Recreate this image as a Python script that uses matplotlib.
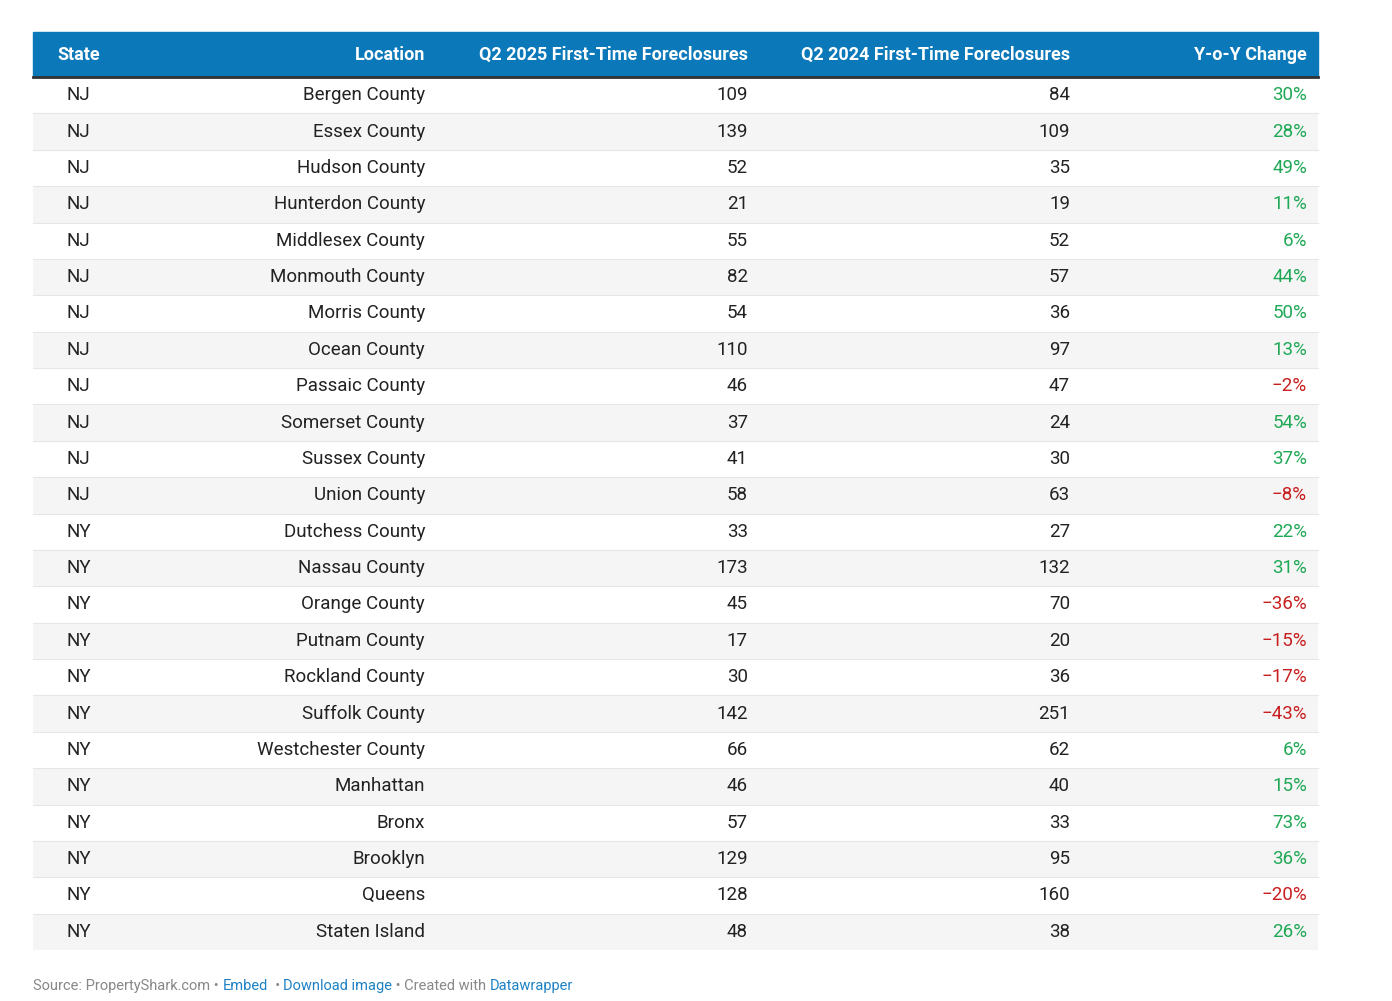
import matplotlib.pyplot as plt
from matplotlib.patches import Rectangle

plt.rcParams['font.family'] = ['Roboto', 'DejaVu Sans']

headers = ["State", "Location", "Q2 2025 First-Time Foreclosures",
           "Q2 2024 First-Time Foreclosures", "Y-o-Y Change"]
states = ["NJ"] * 12 + ["NY"] * 12
locations = ["Bergen County", "Essex County", "Hudson County", "Hunterdon County",
             "Middlesex County", "Monmouth County", "Morris County", "Ocean County",
             "Passaic County", "Somerset County", "Sussex County", "Union County",
             "Dutchess County", "Nassau County", "Orange County", "Putnam County",
             "Rockland County", "Suffolk County", "Westchester County", "Manhattan",
             "Bronx", "Brooklyn", "Queens", "Staten Island"]
q2_2025 = [109, 139, 52, 21, 55, 82, 54, 110, 46, 37, 41, 58,
           33, 173, 45, 17, 30, 142, 66, 46, 57, 129, 128, 48]
q2_2024 = [84, 109, 35, 19, 52, 57, 36, 97, 47, 24, 30, 63,
           27, 132, 70, 20, 36, 251, 62, 40, 33, 95, 160, 38]
yoy = [30, 28, 49, 11, 6, 44, 50, 13, -2, 54, 37, -8,
       22, 31, -36, -15, -17, -43, 6, 15, 73, 36, -20, 26]

W, H = 1392, 1001
fig = plt.figure(figsize=(W / 100, H / 100), dpi=100)
ax = fig.add_axes([0, 0, 1, 1])
ax.set_xlim(0, W)
ax.set_ylim(H, 0)
ax.axis('off')

left, right = 33, 1318
top, head_bot = 32, 77
row_h = (950 - head_bot) / len(states)

ax.add_patch(Rectangle((left, top), right - left, head_bot - top, color='#0a78b9'))
ax.plot([left, right], [head_bot, head_bot], color='#333333', lw=2)

hx = [57, 425, 748, 1070, 1307]
ha = ['left', 'right', 'right', 'right', 'right']
for x, h, a in zip(hx, headers, ha):
    ax.text(x, (top + head_bot) / 2, h, color='white', fontsize=13, fontweight='bold',
            ha=a, va='center')

for i in range(len(states)):
    y0 = head_bot + i * row_h
    yc = y0 + row_h / 2
    if i % 2 == 1:
        ax.add_patch(Rectangle((left, y0), right - left, row_h, color='#f5f5f5', lw=0))
    if i > 0:
        ax.plot([left, right], [y0, y0], color='#e6e6e6', lw=0.8)
    ax.text(67, yc, states[i], fontsize=13.5, color='#222222', ha='left', va='center')
    ax.text(hx[1], yc, locations[i], fontsize=13.5, color='#222222', ha='right', va='center')
    ax.text(hx[2], yc, str(q2_2025[i]), fontsize=13.5, color='#222222', ha='right', va='center')
    ax.text(hx[3], yc, str(q2_2024[i]), fontsize=13.5, color='#222222', ha='right', va='center')
    v = yoy[i]
    txt = f"{v}%" if v >= 0 else f"\u2212{abs(v)}%"
    ax.text(hx[4], yc, txt, fontsize=13.5, color='#1fa855' if v >= 0 else '#c81e1e',
            ha='right', va='center')

parts = [("Source: PropertyShark.com \u2022 ", '#888888'), ("Embed", '#1d81c4'),
         ("  \u2022 ", '#888888'), ("Download image", '#1d81c4'),
         (" \u2022 Created with ", '#888888'), ("Datawrapper", '#1d81c4')]
fig.canvas.draw()
r = fig.canvas.get_renderer()
x = 33
for s, c in parts:
    t = ax.text(x, 986, s, fontsize=10.5, color=c, ha='left', va='center')
    bb = t.get_window_extent(renderer=r)
    x += bb.width

fig.savefig('out.png', dpi=100, facecolor='white')
